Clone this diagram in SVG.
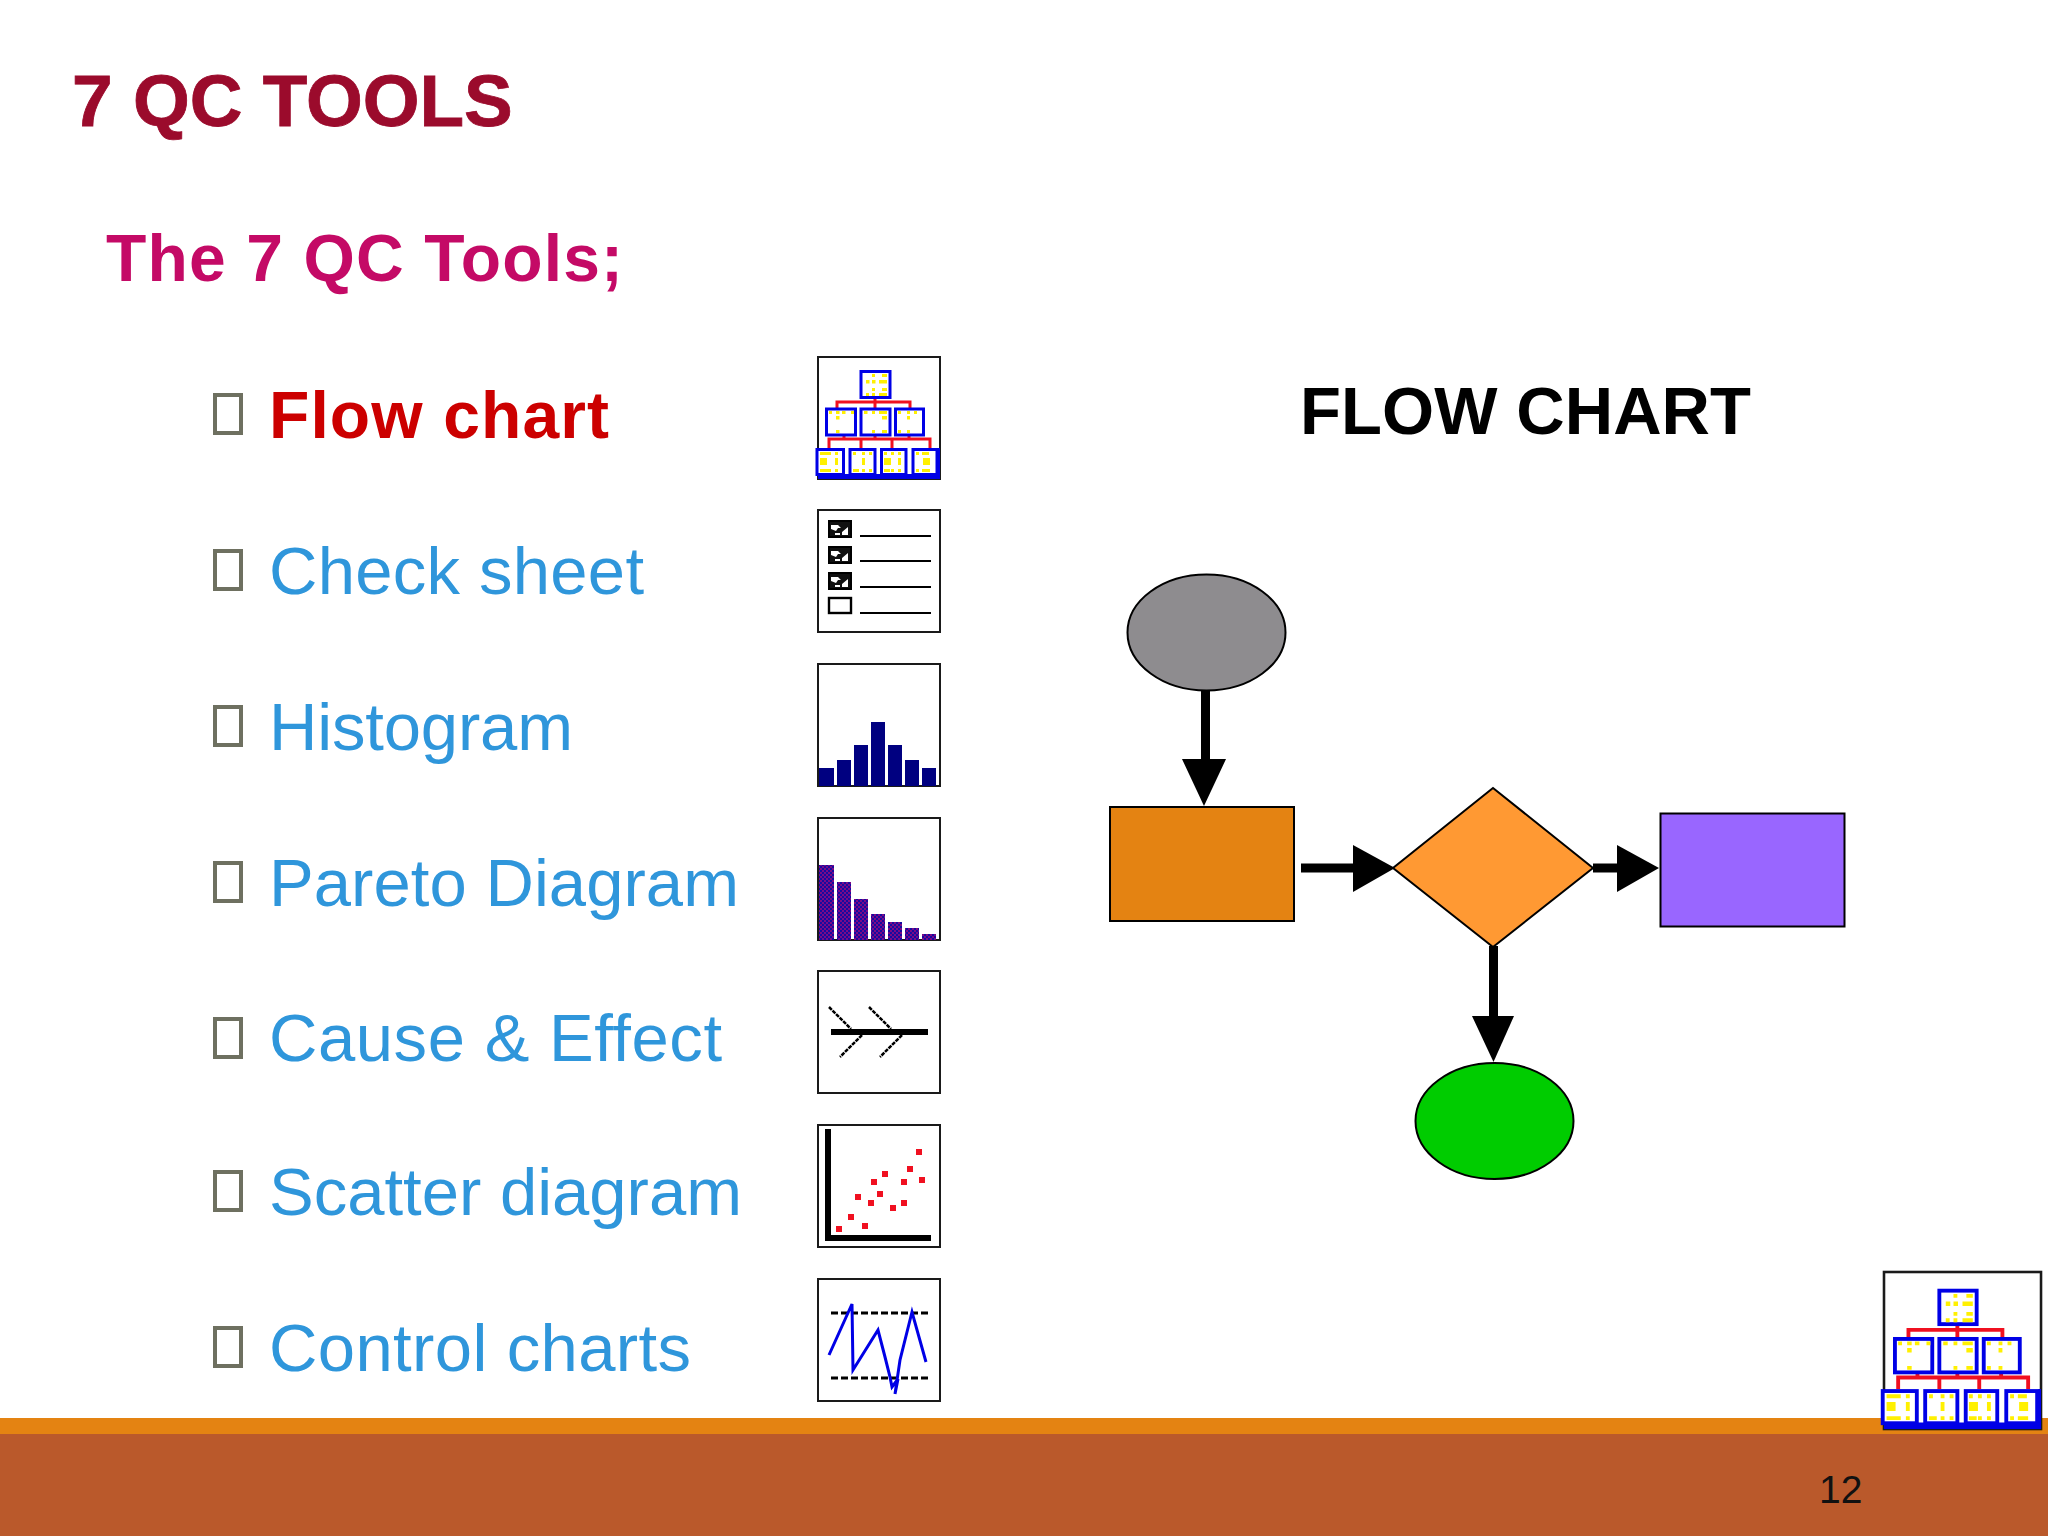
<svg xmlns="http://www.w3.org/2000/svg" xmlns:xlink="http://www.w3.org/1999/xlink" width="2048" height="1536" viewBox="0 0 2048 1536">
<style>
text{font-family:"Liberation Sans",Arial,sans-serif;font-variant-ligatures:none}
.item{font-size:67px;fill:#2F96DB}
.frame{fill:#fff;stroke:#1a1a1a;stroke-width:2}
.bul{fill:none;stroke:#6E7060;stroke-width:4}
.blue{fill:#fff;stroke:#0000E6;stroke-width:3}
.red{fill:none;stroke:#F01020;stroke-width:3}
.y{fill:#FFF000}
.nav{fill:#000080}
.shape{stroke:#000;stroke-width:2}
.flow{stroke:#000;stroke-width:9;fill:none}
</style>
<defs>
<g id="iconFlow">
<rect class="frame" x="0" y="0" width="122" height="122"/>
<path fill="#0000E6" d="M0 117H122V122H0ZM120 91H122V122H120Z"/>
<path class="red" d="M19 51V45H92V51M57 41V51M11 91V82H112V91M43 82V91M74 82V91M26 78V82M57 78V82M91 78V82"/>
<rect class="blue" x="43" y="14.500" width="29" height="26"/>
<rect class="blue" x="8.500" y="52" width="29" height="26"/>
<rect class="blue" x="43" y="52" width="29" height="26"/>
<rect class="blue" x="77.500" y="52" width="28" height="26"/>
<rect class="blue" x="-1" y="92.500" width="26.500" height="25"/>
<rect class="blue" x="32" y="92.500" width="25" height="25"/>
<rect class="blue" x="63.500" y="92.500" width="24.500" height="25"/>
<rect class="blue" x="95" y="92.500" width="24" height="25"/>
<path class="y" d="M48 23h3.500v3.500h-3.500zM54 23h3.500v3.500h-3.500zM61 23h8v3.500h-8zM54 17h3v3h-3zM64 17h5v3h-5zM54 31h3v3h-3zM64 31h5v3h-5zM48 36h3v3h-3zM54 36h3v3h-3zM61 36h8v3h-8zM11 54h3v3h-3zM18 54h3.500v3h-3.500zM24 54h3.500v3h-3.500zM33 54h3v3h-3zM18 59h3.500v3.500h-3.500zM18 73h3.500v3h-3.500zM46 54h3.500v3h-3.500zM54 54h3v3h-3zM61 54h8v3h-8zM64 59h5v3.500h-5zM54 73h3v3h-3zM64 73h5v3h-5zM80 54h3v3h-3zM89 54h3v3h-3zM96 54h3v3h-3zM89 59h3v3.500h-3zM80 73h3v3h-3zM89 73h3v3h-3zM2 95h11v3h-11zM17 95h3v3h-3zM2 101h7v7h-7zM17 101h3v7h-3zM2 112h11v3h-11zM17 112h3v3h-3zM35 95h3v3h-3zM44 95h3v3h-3zM51 95h3v3h-3zM44 101h3v7h-3zM35 112h6v3h-6zM44 112h3v3h-3zM51 112h3v3h-3zM66 95h3v3h-3zM73 95h3v3h-3zM80 95h3v3h-3zM66 101h7v7h-7zM80 101h3v7h-3zM66 112h6v3h-6zM73 112h3v3h-3zM80 112h3v3h-3zM98 95h3v3h-3zM104 95h7v3h-7zM105 101h7v7h-7zM98 112h3v3h-3zM104 112h8v3h-8z"/>
</g>
<g id="box"><rect x="0" y="0" width="22" height="15" fill="#fff" stroke="#000" stroke-width="2.400"/></g>
<g id="boxChecked"><rect x="0" y="0" width="22" height="16" fill="#111" stroke="#000" stroke-width="2"/><path fill="#fff" d="M2 4h7l3 3h-3l-2 3-5-2zM13 11l6-5v8h-6zM6 12h5v2h-5z"/></g>
<pattern id="check" width="4" height="4" patternUnits="userSpaceOnUse"><rect width="4" height="4" fill="#180AA0"/><rect width="2" height="2" fill="#7A0A88"/><rect x="2" y="2" width="2" height="2" fill="#7A0A88"/></pattern>
</defs>
<rect width="2048" height="1536" fill="#fff"/>
<text x="72" y="126" font-size="73" font-weight="700" fill="#9B0B2C" stroke="#9B0B2C" stroke-width="0.8">7 QC TOOLS</text>
<text x="106" y="281" font-size="66" font-weight="700" fill="#C40A66" textLength="517" lengthAdjust="spacing">The 7 QC Tools;</text>

<g id="item-flow-chart"><rect class="bul" x="215" y="395" width="26" height="38"/><text x="269" y="438" font-size="66" font-weight="700" fill="#CC0000" textLength="340" lengthAdjust="spacing">Flow chart</text></g>
<g id="item-check-sheet"><rect class="bul" x="215" y="551" width="26" height="38"/><text class="item" x="269" y="594" textLength="375" lengthAdjust="spacing">Check sheet</text></g>
<g id="item-histogram"><rect class="bul" x="215" y="707" width="26" height="38"/><text class="item" x="269" y="750" textLength="304" lengthAdjust="spacing">Histogram</text></g>
<g id="item-pareto"><rect class="bul" x="215" y="863" width="26" height="38"/><text class="item" x="269" y="906" textLength="470" lengthAdjust="spacing">Pareto Diagram</text></g>
<g id="item-cause"><rect class="bul" x="215" y="1019" width="26" height="38"/><text class="item" x="269" y="1061" textLength="453" lengthAdjust="spacing">Cause &amp; Effect</text></g>
<g id="item-scatter"><rect class="bul" x="215" y="1172" width="26" height="38"/><text class="item" x="269" y="1215" textLength="473" lengthAdjust="spacing">Scatter diagram</text></g>
<g id="item-control"><rect class="bul" x="215" y="1328" width="26" height="38"/><text class="item" x="269" y="1371" textLength="422" lengthAdjust="spacing">Control charts</text></g>

<rect id="band-orange" x="0" y="1418" width="2048" height="16" fill="#E48312"/>
<rect id="band-brown" x="0" y="1434" width="2048" height="102" fill="#BA592B"/>
<text x="1819" y="1503" font-size="39" fill="#111">12</text>

<use id="icon-flow" xlink:href="#iconFlow" href="#iconFlow" x="818" y="357"/>
<g id="icon-check" transform="translate(818,510)">
<rect class="frame" width="122" height="122"/>
<use href="#boxChecked" x="11" y="11"/><use href="#boxChecked" x="11" y="37"/><use href="#boxChecked" x="11" y="63"/><use href="#box" x="11" y="88"/>
<path stroke="#000" stroke-width="2.200" d="M42 26h71M42 51h71M42 77h71M42 103h71"/>
</g>
<g id="icon-histogram" transform="translate(818,664)">
<rect class="frame" width="122" height="122"/>
<path class="nav" d="M1 104h15v18h-15zM19 96h14v26h-14zM36 81h14v41h-14zM53 58h14v64h-14zM70 81h14v41h-14zM87 96h14v26h-14zM104 104h14v18h-14z"/>
</g>
<g id="icon-pareto" transform="translate(818,818)">
<rect class="frame" width="122" height="122"/>
<path fill="url(#check)" d="M1 47h15v75h-15zM19 64h14v58h-14zM36 81h14v41h-14zM53 96h14v26h-14zM70 104h14v18h-14zM87 110h14v12h-14zM104 116h14v6h-14z"/>
</g>
<g id="icon-cause" transform="translate(818,971)">
<rect class="frame" width="122" height="122"/>
<path stroke="#000" stroke-width="6" d="M13 61H110"/>
<path stroke="#000" stroke-width="2.500" stroke-dasharray="4 1" fill="none" d="M11 36L33 58M51 36L73 58M44 64L22 86M84 64L62 86"/>
</g>
<g id="icon-scatter" transform="translate(818,1125)">
<rect class="frame" width="122" height="122"/>
<path fill="#000" d="M7 4h6v106h100v6H7z"/>
<path fill="#F01020" d="M18 101h6v6h-6zM30 89h6v6h-6zM44 98h6v6h-6zM37 69h6v6h-6zM50 75h6v6h-6zM59 66h6v6h-6zM72 80h6v6h-6zM83 75h6v6h-6zM53 54h6v6h-6zM64 46h6v6h-6zM83 54h6v6h-6zM89 41h6v6h-6zM101 52h6v6h-6zM98 24h6v6h-6z"/>
</g>
<g id="icon-control" transform="translate(818,1279)">
<rect class="frame" width="122" height="122"/>
<path stroke="#000" stroke-width="3" stroke-dasharray="7 3" d="M13 34H113M13 99H113"/>
<path stroke="#0000E6" stroke-width="3" fill="none" d="M11 76L34 25L35 91L60 51L67 78L72 98L74 108L80 100L77 115L82 81L94 33L108 83"/>
</g>
<use id="icon-flow-large" xlink:href="#iconFlow" href="#iconFlow" transform="translate(1884,1272) scale(1.287)"/>

<text x="1300" y="434" font-size="67" font-weight="700" fill="#000" textLength="451" lengthAdjust="spacing">FLOW CHART</text>

<g id="connectors">
<path class="flow" d="M1205.500 690V770"/><path d="M1182 759H1226L1204 806Z"/>
<path class="flow" d="M1301 868H1360"/><path d="M1353 845L1395 868L1353 892Z"/>
<path class="flow" d="M1593 868H1625"/><path d="M1617 845L1659 868L1617 892Z"/>
<path class="flow" d="M1493.500 946V1025"/><path d="M1472 1016H1514L1493.500 1062Z"/>
</g>
<g id="node-start"><ellipse class="shape" cx="1206.500" cy="632.500" rx="79" ry="58" fill="#8E8C8F"/></g>
<g id="node-process"><rect class="shape" x="1110" y="807" width="184" height="114" fill="#E48312"/></g>
<g id="node-decision"><path class="shape" d="M1493 788L1593 868L1493 947L1393 868Z" fill="#FF9933"/></g>
<g id="node-output"><rect class="shape" x="1660.500" y="813.500" width="184" height="113" fill="#9966FF"/></g>
<g id="node-end"><ellipse class="shape" cx="1494.500" cy="1121" rx="79" ry="58" fill="#00CC00"/></g>
</svg>
